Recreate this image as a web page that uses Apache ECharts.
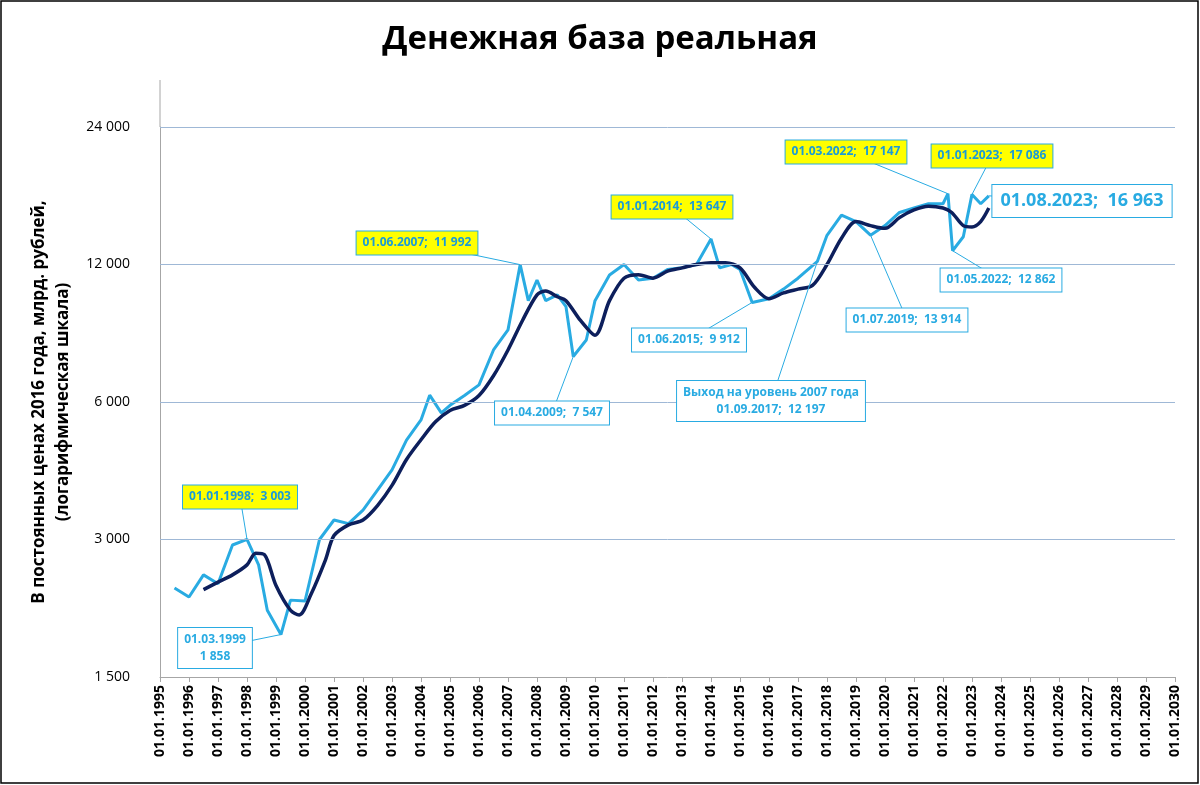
<!DOCTYPE html>
<html><head><meta charset="utf-8">
<script src="https://cdn.jsdelivr.net/npm/echarts@6/dist/echarts.min.js"></script>
<style>html,body{margin:0;padding:0;background:#fff}#c{width:1200px;height:785px}</style>
</head><body><div id="c"></div>
<script>
const realYears = [1995.5,1996.0,1996.5,1997.0,1997.5,1998.0,1998.4,1998.7,1999.17,1999.5,2000.0,2000.5,2001.0,2001.5,2002.0,2002.5,2003.0,2003.5,2004.0,2004.3,2004.7,2005.0,2005.5,2006.0,2006.5,2007.0,2007.42,2007.7,2008.0,2008.3,2008.7,2009.0,2009.25,2009.7,2010.0,2010.5,2011.0,2011.5,2012.0,2012.5,2013.0,2013.5,2014.0,2014.3,2014.7,2015.0,2015.42,2016.0,2016.5,2017.0,2017.67,2018.0,2018.5,2019.0,2019.5,2020.0,2020.5,2021.0,2021.5,2022.0,2022.17,2022.33,2022.7,2023.0,2023.3,2023.58];
const realValues = [2350,2245,2510,2400,2918,3003,2640,2100,1858,2210,2200,3000,3310,3250,3480,3850,4260,4950,5480,6210,5680,5900,6200,6540,7800,8630,11992,10000,11100,10000,10300,9700,7547,8200,10000,11380,12000,11100,11200,11700,11800,12000,13647,11800,12000,11700,9912,10100,10600,11200,12197,13900,15400,14900,13914,14600,15600,15950,16300,16300,17147,12862,13800,17086,16300,16963];
const maYears = [1996.5,1997.0,1997.5,1998.0,1998.3,1998.6,1999.0,1999.5,1999.8,2000.2,2000.7,2001.0,2001.5,2002.0,2002.5,2003.0,2003.5,2004.0,2004.5,2005.0,2005.5,2006.0,2006.5,2007.0,2007.5,2008.0,2008.3,2008.7,2009.0,2009.5,2010.0,2010.5,2011.0,2011.5,2012.0,2012.5,2013.0,2013.5,2014.0,2014.5,2015.0,2015.5,2016.0,2016.5,2017.0,2017.5,2018.0,2018.5,2019.0,2019.5,2020.0,2020.5,2021.0,2021.5,2022.0,2022.3,2022.7,2023.0,2023.3,2023.58];
const maValues = [2330,2420,2510,2640,2800,2780,2380,2100,2050,2270,2700,3060,3230,3310,3560,3940,4490,4960,5430,5750,5900,6200,6850,7800,9050,10300,10500,10200,10000,9050,8400,10000,11200,11400,11200,11600,11800,12000,12100,12100,11800,10700,10100,10400,10600,10800,12000,13700,14900,14600,14400,15200,15800,16100,15950,15600,14600,14500,14900,15950];
const yTicks = [1500,3000,6000,12000,24000];
const notes = [
 {t:'01.01.1998;  3 003', p:[1998.0,3003], y:true, c:[240,497]},
 {t:'01.03.1999\n1 858', p:[1999.17,1858], y:false, c:[215,648]},
 {t:'01.06.2007;  11 992', p:[2007.42,11992], y:true, c:[417,243]},
 {t:'01.04.2009;  7 547', p:[2009.25,7547], y:false, c:[552,413]},
 {t:'01.01.2014;  13 647', p:[2014.0,13647], y:true, c:[672,207]},
 {t:'01.06.2015;  9 912', p:[2015.42,9912], y:false, c:[689,340]},
 {t:'Выход на уровень 2007 года\n01.09.2017;  12 197', p:[2017.67,12197], y:false, c:[771,401]},
 {t:'01.03.2022;  17 147', p:[2022.17,17147], y:true, c:[846,152]},
 {t:'01.01.2023;  17 086', p:[2023.0,17086], y:true, c:[992,156]},
 {t:'01.05.2022;  12 862', p:[2022.33,12862], y:false, c:[1001,280]},
 {t:'01.07.2019;  13 914', p:[2019.5,13914], y:false, c:[907,320]},
 {t:'01.08.2023;  16 963', p:[2023.58,16963], y:false, c:[1082,201], big:true}
];
const BLUE='#29abe2', FONT='"Open Sans", "Liberation Sans", sans-serif';
const fmt = v=>String(Math.round(v)).replace(/\B(?=(\d{3})+(?!\d))/g,' ');
const chart = echarts.init(document.getElementById('c'));
chart.setOption({
 animation:false,
 title:{text:'Денежная база реальная',left:'center',top:18,textStyle:{fontFamily:FONT,fontSize:33,fontWeight:'bold',color:'#000'}},
 grid:{left:160,right:25,top:127,bottom:108},
 xAxis:{type:'value',min:1995,max:2030,interval:1,
  axisLine:{lineStyle:{color:'#a6a6a6'}},axisTick:{show:true,lineStyle:{color:'#a6a6a6'}},splitLine:{show:false},
  axisLabel:{rotate:90,fontFamily:FONT,fontSize:14,fontWeight:'bold',color:'#000',formatter:v=>'01.01.'+v}},
 yAxis:{type:'log',logBase:2,min:1500,max:24000,
  name:'В постоянных ценах 2016 года, млрд. рублей,\n(логарифмическая шкала)',nameLocation:'middle',nameGap:80,nameRotate:90,
  nameTextStyle:{fontFamily:FONT,fontSize:17,fontWeight:'bold',color:'#000',lineHeight:24},
  axisLine:{show:true,lineStyle:{color:'#a6a6a6'}},axisTick:{show:false,customValues:yTicks},
  splitLine:{show:false},
  axisLabel:{customValues:yTicks,fontFamily:FONT,fontSize:14,color:'#000',margin:30,formatter:fmt}},
 series:[
  {type:'line',data:realYears.map((x,i)=>[x,realValues[i]]),symbol:'none',lineStyle:{color:BLUE,width:3},z:2,
   markLine:{silent:true,symbol:'none',label:{show:false},lineStyle:{color:'#9fb8d6',type:'solid',width:1},
    data:yTicks.slice(1).map(v=>({yAxis:v}))}},
  {type:'line',data:maYears.map((x,i)=>[x,maValues[i]]),symbol:'none',smooth:0.3,lineStyle:{color:'#0d1f5c',width:3.5},z:3}
 ]
});
const g=[{type:'rect',shape:{x:1,y:1,width:1197,height:782},style:{fill:'none',stroke:'#000',lineWidth:1.5}},
 {type:'line',shape:{x1:160,y1:80,x2:160,y2:127},style:{stroke:'#a6a6a6',lineWidth:1}}];
notes.forEach(n=>{
 const pt=chart.convertToPixel({xAxisIndex:0,yAxisIndex:0},n.p);
 g.push({type:'line',shape:{x1:n.c[0],y1:n.c[1],x2:pt[0],y2:pt[1]},style:{stroke:BLUE,lineWidth:1},z:10});
 g.push({type:'text',x:n.c[0],y:n.c[1],z:11,style:{text:n.t,align:'center',verticalAlign:'middle',
  fontFamily:FONT,fontWeight:'bold',fontSize:n.big?18:12,lineHeight:n.big?22:17,fill:n.y?'#1a9bd7':BLUE,
  backgroundColor:n.y?'#ffff00':'#fff',borderColor:BLUE,borderWidth:1,padding:n.big?[5,8]:[3,6]}});
});
chart.setOption({graphic:g});
</script></body></html>
